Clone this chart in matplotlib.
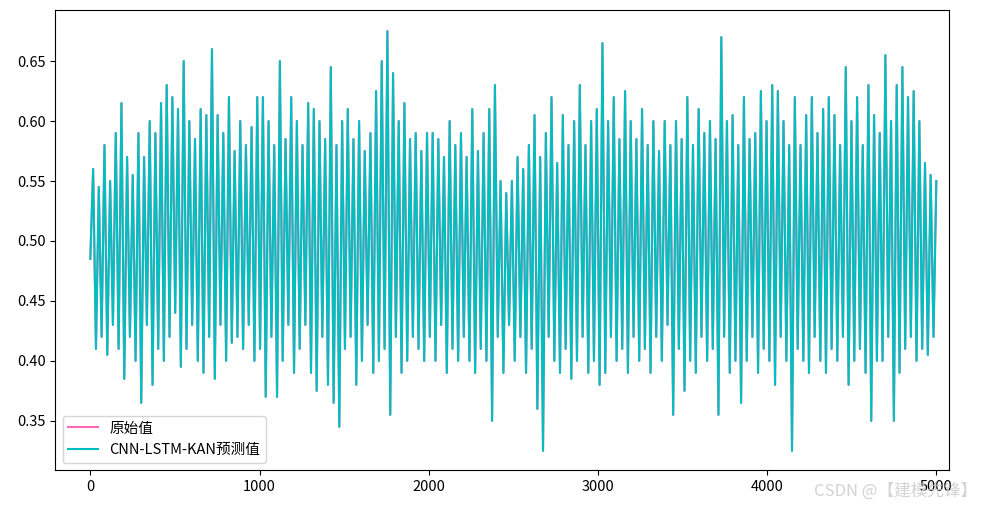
import matplotlib.pyplot as plt
import numpy as np

plt.rcParams['font.family'] = ['Noto Sans CJK SC', 'DejaVu Sans']
plt.rcParams['axes.unicode_minus'] = False

# values (coarse sample of the dense series)
values = [
    0.485,0.56,0.41,0.545,0.42,0.58,0.405,0.55,0.43,0.59,0.41,0.615,0.385,0.57,0.42,0.555,0.40,0.59,0.365,0.57,
    0.43,0.60,0.38,0.59,0.41,0.615,0.40,0.63,0.42,0.62,0.44,0.61,0.395,0.65,0.41,0.60,0.43,0.585,0.40,0.61,
    0.39,0.605,0.42,0.66,0.385,0.605,0.43,0.59,0.40,0.62,0.415,0.575,0.42,0.60,0.41,0.58,0.43,0.595,0.40,0.62,
    0.41,0.62,0.37,0.60,0.42,0.58,0.37,0.65,0.40,0.585,0.43,0.62,0.39,0.60,0.41,0.58,0.43,0.615,0.39,0.61,
    0.375,0.60,0.42,0.585,0.38,0.645,0.365,0.58,0.345,0.60,0.41,0.61,0.42,0.585,0.38,0.60,0.40,0.575,0.43,0.59,
    0.39,0.625,0.40,0.65,0.41,0.675,0.355,0.64,0.42,0.60,0.39,0.615,0.40,0.585,0.42,0.59,0.41,0.575,0.40,0.59,
    0.42,0.59,0.40,0.585,0.43,0.57,0.39,0.60,0.41,0.58,0.40,0.59,0.42,0.57,0.40,0.61,0.39,0.575,0.41,0.59,
    0.40,0.61,0.35,0.63,0.42,0.55,0.39,0.54,0.43,0.55,0.40,0.57,0.42,0.56,0.39,0.58,0.41,0.605,0.36,0.57,
    0.325,0.59,0.42,0.62,0.40,0.565,0.39,0.605,0.41,0.58,0.385,0.60,0.40,0.63,0.42,0.58,0.39,0.60,0.40,0.61,
    0.38,0.665,0.39,0.60,0.42,0.62,0.40,0.585,0.41,0.625,0.39,0.60,0.42,0.585,0.40,0.61,0.41,0.58,0.39,0.60,
    0.42,0.575,0.40,0.60,0.43,0.58,0.355,0.60,0.41,0.585,0.375,0.62,0.40,0.58,0.39,0.61,0.42,0.59,0.40,0.60,
    0.41,0.585,0.355,0.67,0.42,0.60,0.39,0.605,0.40,0.58,0.365,0.62,0.40,0.585,0.42,0.59,0.39,0.625,0.41,0.60,
    0.40,0.63,0.38,0.625,0.42,0.60,0.40,0.58,0.325,0.62,0.41,0.58,0.40,0.605,0.39,0.62,0.42,0.59,0.40,0.61,
    0.39,0.62,0.41,0.605,0.40,0.58,0.42,0.645,0.38,0.60,0.40,0.62,0.41,0.58,0.39,0.63,0.35,0.605,0.40,0.59,
    0.40,0.655,0.42,0.60,0.35,0.63,0.39,0.645,0.41,0.62,0.42,0.625,0.40,0.60,0.41,0.565,0.405,0.555,0.42,0.55,
]
y_true = np.array(values)
y_pred = np.array(values)
x = np.linspace(0, 4999, len(values))

fig = plt.figure(figsize=(9.87, 5.07), dpi=100)
ax = fig.add_axes([0.056, 0.073, 0.905, 0.907])
ax.plot(x, y_true, color='#ff69b4', lw=1.5, label='原始值')
ax.plot(x, y_pred, color='c', lw=1.5, label='CNN-LSTM-KAN预测值')
ax.set_ylim(0.309, 0.6925)
ax.set_xlim(-207, 5071)
ax.set_yticks(np.arange(0.35, 0.66, 0.05))
ax.set_xticks([0, 1000, 2000, 3000, 4000, 5000])
ax.tick_params(labelsize=10.5)
ax.legend(loc='lower left', fontsize=10.5)

fig.text(0.99, 0.015, 'CSDN @【建模先锋】', ha='right', va='bottom',
         color='#c8c8c8', fontsize=12, alpha=0.8)

plt.savefig('out.png')
